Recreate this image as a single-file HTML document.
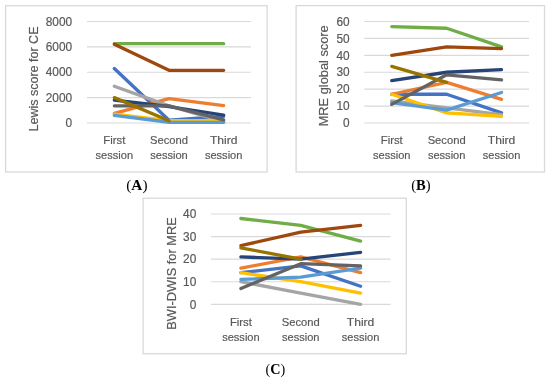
<!DOCTYPE html>
<html><head><meta charset="utf-8"><title>Figure</title>
<style>html,body{margin:0;padding:0;background:#fff}svg{display:block;filter:blur(0.25px)}</style>
</head><body>
<svg width="550" height="380" viewBox="0 0 550 380">
<rect width="550" height="380" fill="#fff"/>
<g>
<rect x="5.6" y="5.7" width="261.5" height="166.3" fill="#fff" stroke="#D9D9D9" stroke-width="1.3"/>
<line x1="87" x2="251" y1="123.00" y2="123.00" stroke="#D9D9D9" stroke-width="1.2"/>
<line x1="87" x2="251" y1="97.62" y2="97.62" stroke="#D9D9D9" stroke-width="1.2"/>
<line x1="87" x2="251" y1="72.25" y2="72.25" stroke="#D9D9D9" stroke-width="1.2"/>
<line x1="87" x2="251" y1="46.88" y2="46.88" stroke="#D9D9D9" stroke-width="1.2"/>
<line x1="87" x2="251" y1="21.50" y2="21.50" stroke="#D9D9D9" stroke-width="1.2"/>
<text x="72.1" y="127.20" text-anchor="end" font-family='"Liberation Sans", sans-serif' font-size="12.8" fill="#595959" stroke="#595959" stroke-width="0.2" textLength="6.6" lengthAdjust="spacingAndGlyphs">0</text>
<text x="72.1" y="101.83" text-anchor="end" font-family='"Liberation Sans", sans-serif' font-size="12.8" fill="#595959" stroke="#595959" stroke-width="0.2" textLength="26.4" lengthAdjust="spacingAndGlyphs">2000</text>
<text x="72.1" y="76.45" text-anchor="end" font-family='"Liberation Sans", sans-serif' font-size="12.8" fill="#595959" stroke="#595959" stroke-width="0.2" textLength="26.4" lengthAdjust="spacingAndGlyphs">4000</text>
<text x="72.1" y="51.08" text-anchor="end" font-family='"Liberation Sans", sans-serif' font-size="12.8" fill="#595959" stroke="#595959" stroke-width="0.2" textLength="26.4" lengthAdjust="spacingAndGlyphs">6000</text>
<text x="72.1" y="25.70" text-anchor="end" font-family='"Liberation Sans", sans-serif' font-size="12.8" fill="#595959" stroke="#595959" stroke-width="0.2" textLength="26.4" lengthAdjust="spacingAndGlyphs">8000</text>
<text transform="translate(37.5 79) rotate(-90)" text-anchor="middle" font-family='"Liberation Sans", sans-serif' font-size="13.4" fill="#595959" stroke="#595959" stroke-width="0.2" textLength="105" lengthAdjust="spacingAndGlyphs">Lewis score for CE</text>
<text x="114.33" y="144.2" text-anchor="middle" font-family='"Liberation Sans", sans-serif' font-size="11.8" fill="#595959" stroke="#595959" stroke-width="0.2" textLength="22" lengthAdjust="spacingAndGlyphs">First</text>
<text x="114.33" y="159.3" text-anchor="middle" font-family='"Liberation Sans", sans-serif' font-size="11.8" fill="#595959" stroke="#595959" stroke-width="0.2" textLength="37.5" lengthAdjust="spacingAndGlyphs">session</text>
<text x="169.00" y="144.2" text-anchor="middle" font-family='"Liberation Sans", sans-serif' font-size="11.8" fill="#595959" stroke="#595959" stroke-width="0.2" textLength="38" lengthAdjust="spacingAndGlyphs">Second</text>
<text x="169.00" y="159.3" text-anchor="middle" font-family='"Liberation Sans", sans-serif' font-size="11.8" fill="#595959" stroke="#595959" stroke-width="0.2" textLength="37.5" lengthAdjust="spacingAndGlyphs">session</text>
<text x="223.67" y="144.2" text-anchor="middle" font-family='"Liberation Sans", sans-serif' font-size="11.8" fill="#595959" stroke="#595959" stroke-width="0.2" textLength="27.5" lengthAdjust="spacingAndGlyphs">Third</text>
<text x="223.67" y="159.3" text-anchor="middle" font-family='"Liberation Sans", sans-serif' font-size="11.8" fill="#595959" stroke="#595959" stroke-width="0.2" textLength="37.5" lengthAdjust="spacingAndGlyphs">session</text>
<polyline points="114.33,68.44 169.00,120.27 223.67,116.40" fill="none" stroke="#4472C4" stroke-width="3.3" stroke-linecap="round" stroke-linejoin="round"/>
<polyline points="114.33,113.36 169.00,98.64 223.67,105.62" fill="none" stroke="#ED7D31" stroke-width="3.3" stroke-linecap="round" stroke-linejoin="round"/>
<polyline points="114.33,86.21 169.00,105.87 223.67,121.73" fill="none" stroke="#A5A5A5" stroke-width="3.3" stroke-linecap="round" stroke-linejoin="round"/>
<polyline points="114.33,114.12 169.00,120.59 223.67,120.72" fill="none" stroke="#FFC000" stroke-width="3.3" stroke-linecap="round" stroke-linejoin="round"/>
<polyline points="114.33,115.39 169.00,122.24 223.67,122.37" fill="none" stroke="#5B9BD5" stroke-width="3.3" stroke-linecap="round" stroke-linejoin="round"/>
<polyline points="114.33,43.70 169.00,43.70 223.67,43.70" fill="none" stroke="#70AD47" stroke-width="3.3" stroke-linecap="round" stroke-linejoin="round"/>
<polyline points="114.33,100.16 169.00,106.51 223.67,115.13" fill="none" stroke="#264478" stroke-width="3.3" stroke-linecap="round" stroke-linejoin="round"/>
<polyline points="114.33,44.34 169.00,70.35 223.67,70.35" fill="none" stroke="#9E480E" stroke-width="3.3" stroke-linecap="round" stroke-linejoin="round"/>
<polyline points="114.33,105.87 169.00,105.87 223.67,119.83" fill="none" stroke="#636363" stroke-width="3.3" stroke-linecap="round" stroke-linejoin="round"/>
<polyline points="114.33,97.62 169.00,120.72" fill="none" stroke="#997300" stroke-width="3.3" stroke-linecap="round" stroke-linejoin="round"/>
<text transform="translate(136.9 189.7) scale(1.0 1)" text-anchor="middle" font-family='"Liberation Serif", serif' font-size="15.3" fill="#000">(<tspan font-weight="bold">A</tspan>)</text>
</g>
<g>
<rect x="296.1" y="5.6" width="248.39999999999998" height="166.4" fill="#fff" stroke="#D9D9D9" stroke-width="1.3"/>
<line x1="364.3" x2="529" y1="123.00" y2="123.00" stroke="#D9D9D9" stroke-width="1.2"/>
<line x1="364.3" x2="529" y1="106.08" y2="106.08" stroke="#D9D9D9" stroke-width="1.2"/>
<line x1="364.3" x2="529" y1="89.17" y2="89.17" stroke="#D9D9D9" stroke-width="1.2"/>
<line x1="364.3" x2="529" y1="72.25" y2="72.25" stroke="#D9D9D9" stroke-width="1.2"/>
<line x1="364.3" x2="529" y1="55.33" y2="55.33" stroke="#D9D9D9" stroke-width="1.2"/>
<line x1="364.3" x2="529" y1="38.42" y2="38.42" stroke="#D9D9D9" stroke-width="1.2"/>
<line x1="364.3" x2="529" y1="21.50" y2="21.50" stroke="#D9D9D9" stroke-width="1.2"/>
<text x="349.6" y="127.20" text-anchor="end" font-family='"Liberation Sans", sans-serif' font-size="12.8" fill="#595959" stroke="#595959" stroke-width="0.2" textLength="6.6" lengthAdjust="spacingAndGlyphs">0</text>
<text x="349.6" y="110.28" text-anchor="end" font-family='"Liberation Sans", sans-serif' font-size="12.8" fill="#595959" stroke="#595959" stroke-width="0.2" textLength="13.2" lengthAdjust="spacingAndGlyphs">10</text>
<text x="349.6" y="93.37" text-anchor="end" font-family='"Liberation Sans", sans-serif' font-size="12.8" fill="#595959" stroke="#595959" stroke-width="0.2" textLength="13.2" lengthAdjust="spacingAndGlyphs">20</text>
<text x="349.6" y="76.45" text-anchor="end" font-family='"Liberation Sans", sans-serif' font-size="12.8" fill="#595959" stroke="#595959" stroke-width="0.2" textLength="13.2" lengthAdjust="spacingAndGlyphs">30</text>
<text x="349.6" y="59.53" text-anchor="end" font-family='"Liberation Sans", sans-serif' font-size="12.8" fill="#595959" stroke="#595959" stroke-width="0.2" textLength="13.2" lengthAdjust="spacingAndGlyphs">40</text>
<text x="349.6" y="42.62" text-anchor="end" font-family='"Liberation Sans", sans-serif' font-size="12.8" fill="#595959" stroke="#595959" stroke-width="0.2" textLength="13.2" lengthAdjust="spacingAndGlyphs">50</text>
<text x="349.6" y="25.70" text-anchor="end" font-family='"Liberation Sans", sans-serif' font-size="12.8" fill="#595959" stroke="#595959" stroke-width="0.2" textLength="13.2" lengthAdjust="spacingAndGlyphs">60</text>
<text transform="translate(327.5 75.8) rotate(-90)" text-anchor="middle" font-family='"Liberation Sans", sans-serif' font-size="13.4" fill="#595959" stroke="#595959" stroke-width="0.2" textLength="101" lengthAdjust="spacingAndGlyphs">MRE global score</text>
<text x="391.75" y="144.2" text-anchor="middle" font-family='"Liberation Sans", sans-serif' font-size="11.8" fill="#595959" stroke="#595959" stroke-width="0.2" textLength="22" lengthAdjust="spacingAndGlyphs">First</text>
<text x="391.75" y="159.3" text-anchor="middle" font-family='"Liberation Sans", sans-serif' font-size="11.8" fill="#595959" stroke="#595959" stroke-width="0.2" textLength="37.5" lengthAdjust="spacingAndGlyphs">session</text>
<text x="446.65" y="144.2" text-anchor="middle" font-family='"Liberation Sans", sans-serif' font-size="11.8" fill="#595959" stroke="#595959" stroke-width="0.2" textLength="38" lengthAdjust="spacingAndGlyphs">Second</text>
<text x="446.65" y="159.3" text-anchor="middle" font-family='"Liberation Sans", sans-serif' font-size="11.8" fill="#595959" stroke="#595959" stroke-width="0.2" textLength="37.5" lengthAdjust="spacingAndGlyphs">session</text>
<text x="501.55" y="144.2" text-anchor="middle" font-family='"Liberation Sans", sans-serif' font-size="11.8" fill="#595959" stroke="#595959" stroke-width="0.2" textLength="27.5" lengthAdjust="spacingAndGlyphs">Third</text>
<text x="501.55" y="159.3" text-anchor="middle" font-family='"Liberation Sans", sans-serif' font-size="11.8" fill="#595959" stroke="#595959" stroke-width="0.2" textLength="37.5" lengthAdjust="spacingAndGlyphs">session</text>
<polyline points="391.75,94.24 446.65,94.24 501.55,112.85" fill="none" stroke="#4472C4" stroke-width="3.3" stroke-linecap="round" stroke-linejoin="round"/>
<polyline points="391.75,94.24 446.65,82.40 501.55,99.32" fill="none" stroke="#ED7D31" stroke-width="3.3" stroke-linecap="round" stroke-linejoin="round"/>
<polyline points="391.75,101.01 446.65,107.78 501.55,114.54" fill="none" stroke="#A5A5A5" stroke-width="3.3" stroke-linecap="round" stroke-linejoin="round"/>
<polyline points="391.75,94.24 446.65,112.85 501.55,116.23" fill="none" stroke="#FFC000" stroke-width="3.3" stroke-linecap="round" stroke-linejoin="round"/>
<polyline points="391.75,102.70 446.65,110.14 501.55,92.55" fill="none" stroke="#5B9BD5" stroke-width="3.3" stroke-linecap="round" stroke-linejoin="round"/>
<polyline points="391.75,26.58 446.65,28.27 501.55,46.88" fill="none" stroke="#70AD47" stroke-width="3.3" stroke-linecap="round" stroke-linejoin="round"/>
<polyline points="391.75,80.71 446.65,72.25 501.55,69.54" fill="none" stroke="#264478" stroke-width="3.3" stroke-linecap="round" stroke-linejoin="round"/>
<polyline points="391.75,55.33 446.65,46.88 501.55,48.57" fill="none" stroke="#9E480E" stroke-width="3.3" stroke-linecap="round" stroke-linejoin="round"/>
<polyline points="391.75,104.39 446.65,74.79 501.55,79.86" fill="none" stroke="#636363" stroke-width="3.3" stroke-linecap="round" stroke-linejoin="round"/>
<polyline points="391.75,66.33 446.65,82.40" fill="none" stroke="#997300" stroke-width="3.3" stroke-linecap="round" stroke-linejoin="round"/>
<text transform="translate(420.9 189.7) scale(0.95 1)" text-anchor="middle" font-family='"Liberation Serif", serif' font-size="15.3" fill="#000">(<tspan font-weight="bold">B</tspan>)</text>
</g>
<g>
<rect x="143.1" y="198.2" width="263.20000000000005" height="155.55" fill="#fff" stroke="#D9D9D9" stroke-width="1.3"/>
<line x1="211" x2="390.5" y1="304.30" y2="304.30" stroke="#D9D9D9" stroke-width="1.2"/>
<line x1="211" x2="390.5" y1="281.73" y2="281.73" stroke="#D9D9D9" stroke-width="1.2"/>
<line x1="211" x2="390.5" y1="259.15" y2="259.15" stroke="#D9D9D9" stroke-width="1.2"/>
<line x1="211" x2="390.5" y1="236.57" y2="236.57" stroke="#D9D9D9" stroke-width="1.2"/>
<line x1="211" x2="390.5" y1="214.00" y2="214.00" stroke="#D9D9D9" stroke-width="1.2"/>
<text x="196.3" y="308.50" text-anchor="end" font-family='"Liberation Sans", sans-serif' font-size="12.8" fill="#595959" stroke="#595959" stroke-width="0.2" textLength="6.6" lengthAdjust="spacingAndGlyphs">0</text>
<text x="196.3" y="285.93" text-anchor="end" font-family='"Liberation Sans", sans-serif' font-size="12.8" fill="#595959" stroke="#595959" stroke-width="0.2" textLength="13.2" lengthAdjust="spacingAndGlyphs">10</text>
<text x="196.3" y="263.35" text-anchor="end" font-family='"Liberation Sans", sans-serif' font-size="12.8" fill="#595959" stroke="#595959" stroke-width="0.2" textLength="13.2" lengthAdjust="spacingAndGlyphs">20</text>
<text x="196.3" y="240.77" text-anchor="end" font-family='"Liberation Sans", sans-serif' font-size="12.8" fill="#595959" stroke="#595959" stroke-width="0.2" textLength="13.2" lengthAdjust="spacingAndGlyphs">30</text>
<text x="196.3" y="218.20" text-anchor="end" font-family='"Liberation Sans", sans-serif' font-size="12.8" fill="#595959" stroke="#595959" stroke-width="0.2" textLength="13.2" lengthAdjust="spacingAndGlyphs">40</text>
<text transform="translate(175.6 273.5) rotate(-90)" text-anchor="middle" font-family='"Liberation Sans", sans-serif' font-size="13.4" fill="#595959" stroke="#595959" stroke-width="0.2" textLength="112.4" lengthAdjust="spacingAndGlyphs">BWI-DWIS for MRE</text>
<text x="240.92" y="325.6" text-anchor="middle" font-family='"Liberation Sans", sans-serif' font-size="11.8" fill="#595959" stroke="#595959" stroke-width="0.2" textLength="22" lengthAdjust="spacingAndGlyphs">First</text>
<text x="240.92" y="341.1" text-anchor="middle" font-family='"Liberation Sans", sans-serif' font-size="11.8" fill="#595959" stroke="#595959" stroke-width="0.2" textLength="37.5" lengthAdjust="spacingAndGlyphs">session</text>
<text x="300.75" y="325.6" text-anchor="middle" font-family='"Liberation Sans", sans-serif' font-size="11.8" fill="#595959" stroke="#595959" stroke-width="0.2" textLength="38" lengthAdjust="spacingAndGlyphs">Second</text>
<text x="300.75" y="341.1" text-anchor="middle" font-family='"Liberation Sans", sans-serif' font-size="11.8" fill="#595959" stroke="#595959" stroke-width="0.2" textLength="37.5" lengthAdjust="spacingAndGlyphs">session</text>
<text x="360.58" y="325.6" text-anchor="middle" font-family='"Liberation Sans", sans-serif' font-size="11.8" fill="#595959" stroke="#595959" stroke-width="0.2" textLength="27.5" lengthAdjust="spacingAndGlyphs">Third</text>
<text x="360.58" y="341.1" text-anchor="middle" font-family='"Liberation Sans", sans-serif' font-size="11.8" fill="#595959" stroke="#595959" stroke-width="0.2" textLength="37.5" lengthAdjust="spacingAndGlyphs">session</text>
<polyline points="240.92,272.69 300.75,265.92 360.58,286.24" fill="none" stroke="#4472C4" stroke-width="3.3" stroke-linecap="round" stroke-linejoin="round"/>
<polyline points="240.92,268.18 300.75,256.89 360.58,272.69" fill="none" stroke="#ED7D31" stroke-width="3.3" stroke-linecap="round" stroke-linejoin="round"/>
<polyline points="240.92,281.73 300.75,293.01 360.58,304.30" fill="none" stroke="#A5A5A5" stroke-width="3.3" stroke-linecap="round" stroke-linejoin="round"/>
<polyline points="240.92,272.69 300.75,281.73 360.58,293.01" fill="none" stroke="#FFC000" stroke-width="3.3" stroke-linecap="round" stroke-linejoin="round"/>
<polyline points="240.92,279.47 300.75,277.21 360.58,268.18" fill="none" stroke="#5B9BD5" stroke-width="3.3" stroke-linecap="round" stroke-linejoin="round"/>
<polyline points="240.92,218.51 300.75,225.29 360.58,241.09" fill="none" stroke="#70AD47" stroke-width="3.3" stroke-linecap="round" stroke-linejoin="round"/>
<polyline points="240.92,256.89 300.75,259.15 360.58,252.38" fill="none" stroke="#264478" stroke-width="3.3" stroke-linecap="round" stroke-linejoin="round"/>
<polyline points="240.92,245.61 300.75,232.06 360.58,225.29" fill="none" stroke="#9E480E" stroke-width="3.3" stroke-linecap="round" stroke-linejoin="round"/>
<polyline points="240.92,288.50 300.75,263.67 360.58,265.92" fill="none" stroke="#636363" stroke-width="3.3" stroke-linecap="round" stroke-linejoin="round"/>
<polyline points="240.92,247.86 300.75,259.15" fill="none" stroke="#997300" stroke-width="3.3" stroke-linecap="round" stroke-linejoin="round"/>
<text transform="translate(275.4 374.0) scale(0.93 1)" text-anchor="middle" font-family='"Liberation Serif", serif' font-size="15.3" fill="#000">(<tspan font-weight="bold">C</tspan>)</text>
</g>
</svg>
</body></html>
